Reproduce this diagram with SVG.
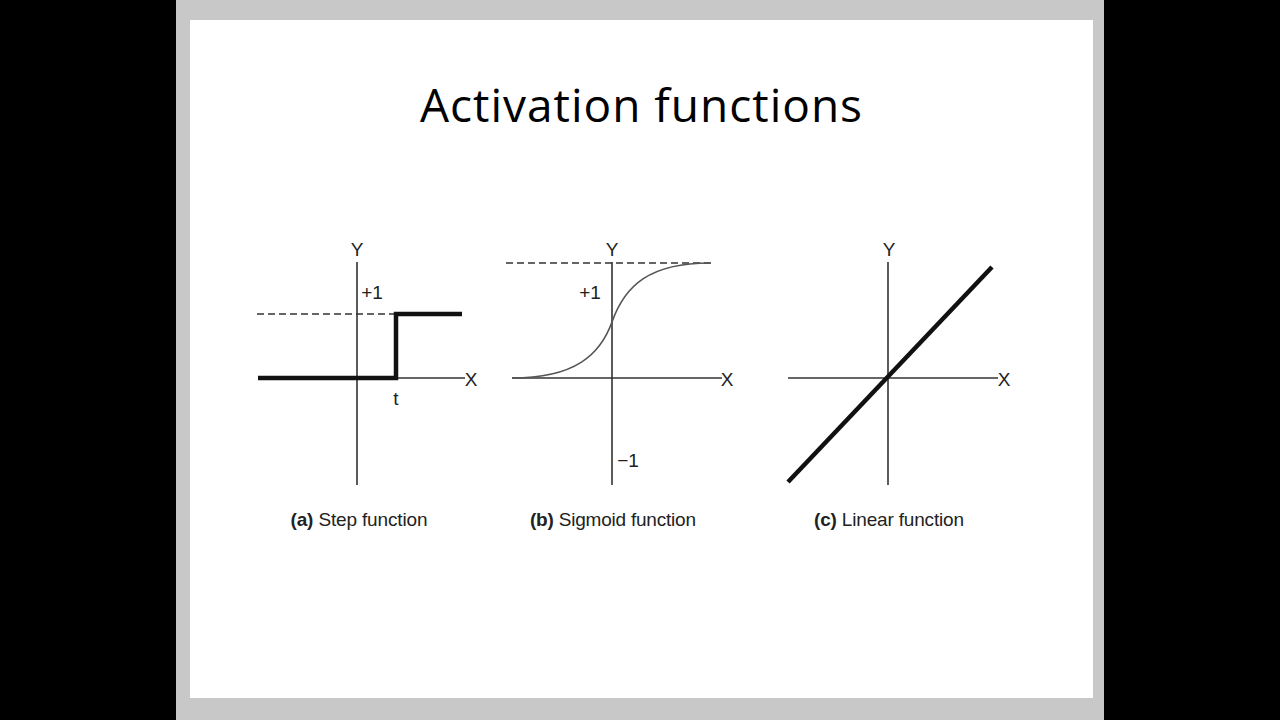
<svg xmlns="http://www.w3.org/2000/svg" width="1280" height="720" viewBox="0 0 1280 720">
<style>
.ax{stroke:#333;stroke-width:1.6;fill:none}
.dash{stroke:#333;stroke-width:1.6;stroke-dasharray:7,4;fill:none}
.thick{stroke:#111;stroke-width:4.5;fill:none}
.t{font-family:"Liberation Sans",Arial,sans-serif;font-size:19px;fill:#222;text-anchor:middle}
.cap{font-family:"Liberation Sans",Arial,sans-serif;font-size:19px;fill:#222;text-anchor:middle}
</style>
<rect width="1280" height="720" fill="#000"/>
<rect x="176" y="0" width="928" height="720" fill="#c8c8c8"/>
<rect x="190" y="20" width="903" height="678" fill="#fff"/>
<text x="641" y="122" font-family="'Open Sans','Liberation Sans',sans-serif" font-size="46" fill="#000" text-anchor="middle" textLength="442">Activation functions</text>
<g id="step">
<line class="ax" x1="357" y1="262" x2="357" y2="485"/>
<line class="ax" x1="258" y1="378" x2="465" y2="378"/>
<line class="dash" x1="257" y1="314" x2="395" y2="314"/>
<polyline class="thick" points="258,378 396,378 396,314 462,314"/>
<text class="t" x="357" y="256">Y</text>
<text class="t" x="372" y="299">+1</text>
<text class="t" x="471" y="386">X</text>
<text class="t" x="396" y="405">t</text>
<text class="cap" x="359" y="526" textLength="137"><tspan font-weight="bold">(a)</tspan> Step function</text>
</g>
<g id="sigmoid">
<line class="ax" x1="612" y1="262" x2="612" y2="485"/>
<line class="ax" x1="512" y1="378" x2="722" y2="378"/>
<line class="dash" x1="506" y1="263" x2="712" y2="263"/>
<path d="M512,378 C575,378 600,355 612,322 C625,285 650,263 710,263" stroke="#555" stroke-width="1.6" fill="none"/>
<text class="t" x="612" y="256">Y</text>
<text class="t" x="590" y="299">+1</text>
<text class="t" x="628" y="467">−1</text>
<text class="t" x="727" y="386">X</text>
<text class="cap" x="613" y="526" textLength="166"><tspan font-weight="bold">(b)</tspan> Sigmoid function</text>
</g>
<g id="linear">
<line class="ax" x1="888" y1="262" x2="888" y2="485"/>
<line class="ax" x1="788" y1="378" x2="998" y2="378"/>
<line class="thick" x1="788" y1="482" x2="992" y2="267" stroke-width="4"/>
<text class="t" x="889" y="256">Y</text>
<text class="t" x="1004" y="386">X</text>
<text class="cap" x="889" y="526" textLength="150"><tspan font-weight="bold">(c)</tspan> Linear function</text>
</g>
</svg>
